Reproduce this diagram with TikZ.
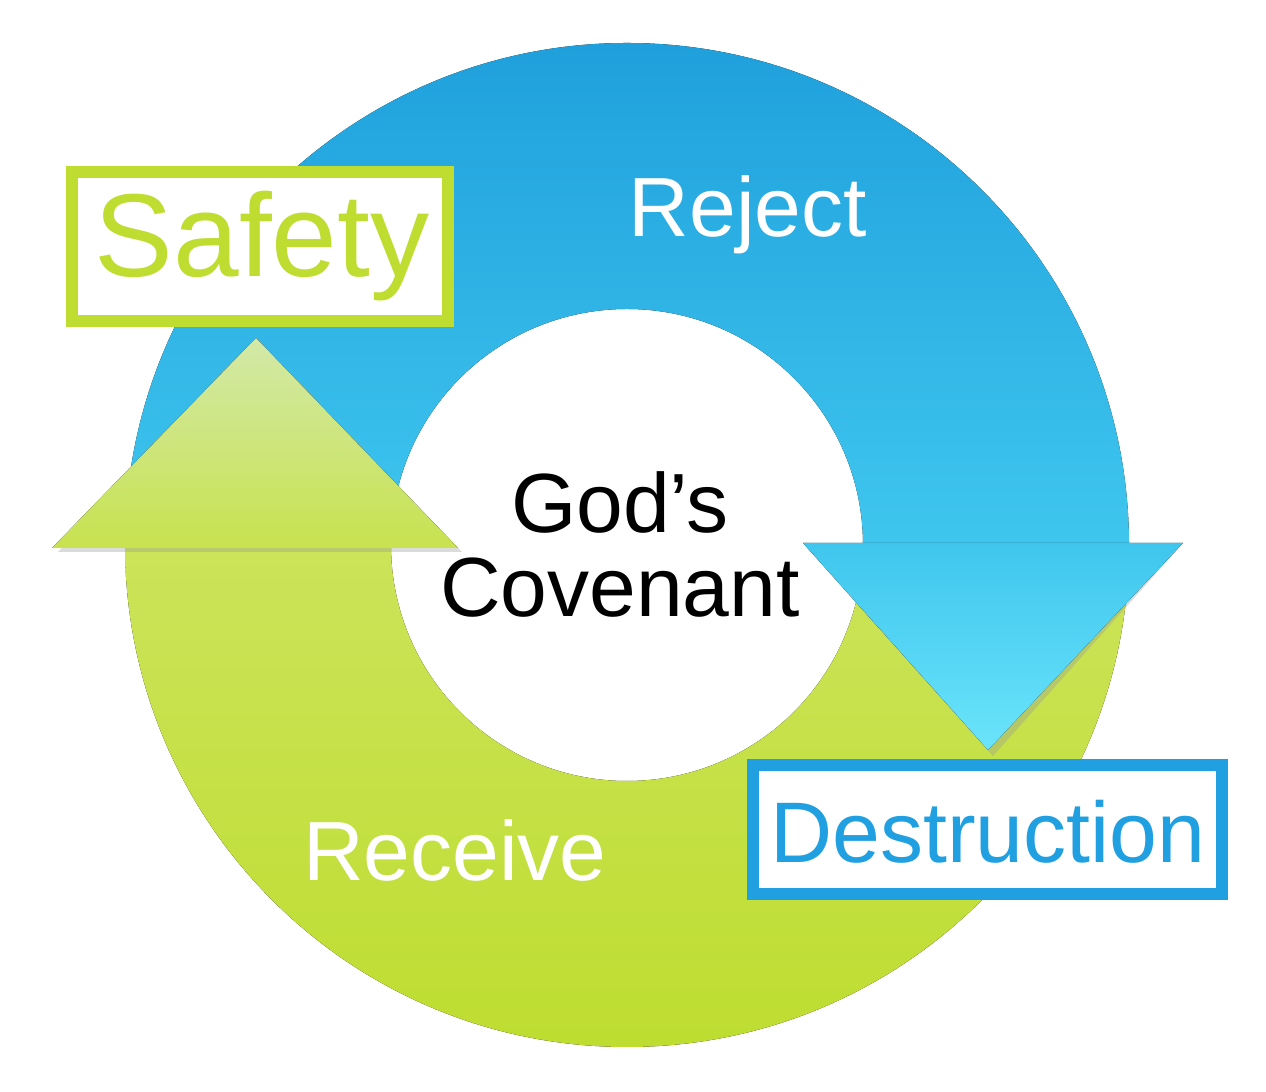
\documentclass[tikz,border=0pt]{standalone}
\usepackage{fontspec}
\setmainfont{Liberation Sans}
\definecolor{bluedark}{HTML}{1FA0DC}
\definecolor{bluelight}{HTML}{3FC6EE}
\definecolor{bluetip}{HTML}{6AE4FA}
\definecolor{greenmain}{HTML}{BEDD30}
\definecolor{greenlight}{HTML}{CBE58A}
\definecolor{greentip}{HTML}{D2E9A8}
\definecolor{boxblue}{HTML}{20A0E0}
\begin{document}
\begin{tikzpicture}[x=1pt,y=1pt,
  lbl/.style={inner sep=0pt,font=\fontsize{84}{90}\selectfont},
  framebox/.style={line width=12pt,fill=white}]
\useasboundingbox (0,0) rectangle (1266,1092);
% green lower half ring
\fill[top color=greenmain!80!white,bottom color=greenmain] (125,547) arc[start angle=180,end angle=360,radius=502] -- (863,547) arc[start angle=0,end angle=-180,radius=236] -- cycle;
% blue upper half ring
\fill[top color=bluedark,bottom color=bluelight] (125,547) arc[start angle=180,end angle=0,radius=502] -- (863,547) arc[start angle=0,end angle=180,radius=236] -- cycle;
% blue arrow head
\fill[black!40,opacity=0.35] (808,543) -- (1178,543) -- (993,336) -- cycle;
\fill[top color=bluelight,bottom color=bluetip] (803,549) -- (1183,549) -- (988,342) -- cycle;
% green arrow head
\fill[black!40,opacity=0.35] (58,540) -- (462,540) -- (260,750) -- cycle;
\fill[top color=greentip,bottom color=greenmain!85!white] (52,544) -- (458,544) -- (256,754) -- cycle;
% boxes
\draw[framebox,draw=greenmain] (72,771) rectangle (448,920);
\node[lbl,font=\fontsize{118}{120}\selectfont,text=greenmain] (safety) at (262,846) {Safety};
\draw[framebox,draw=boxblue] (753,198) rectangle (1222,327);
\node[lbl,font=\fontsize{86}{90}\selectfont,text=boxblue] (destruction) at (988,260) {Destruction};
% labels
\node[lbl,text=white] (reject) at (748,877) {Reject};
\node[lbl,text=white] (receive) at (455,242) {Receive};
\node[lbl,text=black] (gods) at (620,590) {God’s};
\node[lbl,text=black] (cov) at (620,504) {Covenant};
\end{tikzpicture}
\end{document}
